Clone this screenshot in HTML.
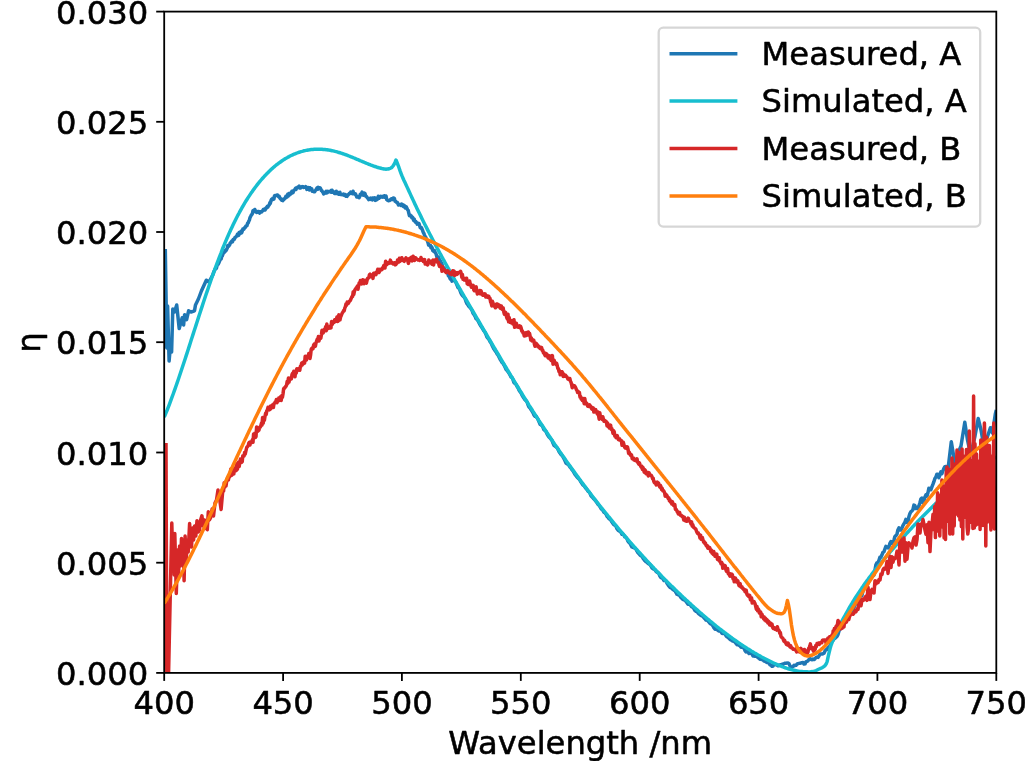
<!DOCTYPE html>
<html lang="en"><head><meta charset="utf-8"><title>Diffraction efficiency vs wavelength</title>
<style>html,body{margin:0;padding:0;background:#fff;overflow:hidden}svg{display:block}text{font-family:"DejaVu Sans","Liberation Sans",sans-serif;font-size:32.20px;fill:#000;stroke:#000;stroke-width:0.55px;stroke-linejoin:round}.ln{fill:none;stroke-width:3.50;stroke-linejoin:round;stroke-linecap:butt}.tk{stroke:#000;stroke-width:1.80}</style></head><body>
<svg width="1025" height="761" viewBox="0 0 1025 761">
<rect width="1025" height="761" fill="#fff"/>
<defs><clipPath id="ax"><rect x="164.2" y="11.6" width="832.1" height="661.3"/></clipPath></defs>
<g clip-path="url(#ax)">
<path class="ln" stroke="#1f77b4" d="M165.3 249.0 L166.1 300.0 L166.8 348.0 L167.6 306.0 L169.1 361.0 L170.5 345.0 L171.6 352.0 L172.8 309.0 L174.5 312.0 L176.7 305.0 L179.2 328.5 L182.2 317.7 L183.6 325.0 L184.6 314.7 L186.6 319.6 L188.6 310.8 L191.0 312.0 L194.5 310.8 L195.5 304.9 L198.4 299.0 L201.4 291.0 L206.3 280.2 L209.0 282.0 L212.2 276.0 L212.8 274.9 L213.4 273.2 L214.0 271.4 L214.6 270.5 L215.2 268.9 L215.8 268.5 L216.4 268.3 L217.0 265.7 L217.6 264.4 L218.2 264.1 L218.8 262.9 L219.4 261.6 L220.0 259.7 L220.6 259.3 L221.2 258.8 L221.8 256.1 L222.4 255.8 L223.0 253.7 L223.6 253.1 L224.2 251.7 L224.8 252.0 L225.4 250.3 L226.0 250.5 L226.6 249.5 L227.2 248.3 L227.8 245.6 L228.4 246.3 L229.0 245.8 L229.6 245.0 L230.2 242.9 L230.8 242.9 L231.4 241.6 L232.0 240.9 L232.6 241.6 L233.2 239.4 L233.8 239.2 L234.4 239.2 L235.0 237.3 L235.6 237.1 L236.2 236.6 L236.8 236.0 L237.4 234.3 L238.0 234.8 L238.6 235.3 L239.2 232.4 L239.8 233.8 L240.4 232.6 L241.0 231.4 L241.6 232.9 L242.2 231.3 L242.8 229.1 L243.4 229.4 L244.0 229.1 L244.6 227.7 L245.2 227.6 L245.8 226.2 L246.4 226.0 L247.0 225.7 L247.6 223.1 L248.2 222.9 L248.8 221.2 L249.4 220.2 L250.0 217.6 L250.6 216.5 L251.2 215.2 L251.8 214.6 L252.4 213.6 L253.0 210.7 L253.6 210.5 L254.2 211.5 L254.8 209.5 L255.4 210.8 L256.0 211.2 L256.6 212.4 L257.2 212.1 L257.8 211.4 L258.4 211.5 L259.0 211.7 L259.6 213.2 L260.2 211.7 L260.8 211.7 L261.4 212.0 L262.0 211.3 L262.6 210.9 L263.2 209.7 L263.8 210.1 L264.4 209.2 L265.0 210.0 L265.6 209.0 L266.2 207.8 L266.8 207.7 L267.4 206.3 L268.0 206.9 L268.6 205.4 L269.2 205.2 L269.8 202.8 L270.4 203.2 L271.0 200.6 L271.6 199.4 L272.1 199.8 L272.7 198.3 L273.3 198.3 L273.9 199.1 L274.5 195.9 L275.1 195.4 L275.7 195.6 L276.3 195.5 L276.9 194.9 L277.5 195.0 L278.1 196.2 L278.7 196.8 L279.3 196.4 L279.9 198.1 L280.5 199.0 L281.1 198.8 L281.7 200.2 L282.3 199.3 L282.9 200.6 L283.5 199.7 L284.1 199.3 L284.7 198.3 L285.3 198.2 L285.9 196.2 L286.5 196.3 L287.1 196.9 L287.7 194.3 L288.3 196.1 L288.9 193.5 L289.5 195.0 L290.1 193.2 L290.7 194.1 L291.3 193.0 L291.9 191.2 L292.5 192.9 L293.1 192.5 L293.7 190.7 L294.3 190.0 L294.9 189.5 L295.5 188.4 L296.1 189.5 L296.7 187.8 L297.3 187.8 L297.9 186.9 L298.5 186.8 L299.1 186.1 L299.7 188.0 L300.3 186.9 L300.9 187.8 L301.5 187.1 L302.1 186.6 L302.7 186.9 L303.3 186.8 L303.9 187.4 L304.5 187.2 L305.1 187.4 L305.7 186.6 L306.3 187.3 L306.9 189.4 L307.5 187.7 L308.1 187.6 L308.7 188.9 L309.3 189.9 L309.9 187.8 L310.5 189.1 L311.1 189.2 L311.7 188.8 L312.3 191.3 L312.9 191.2 L313.5 191.6 L314.1 191.0 L314.7 191.7 L315.3 190.5 L315.9 190.2 L316.5 188.7 L317.1 187.9 L317.7 189.3 L318.3 187.4 L318.9 187.8 L319.5 187.7 L320.1 187.9 L320.7 188.7 L321.3 190.5 L321.9 190.7 L322.5 191.7 L323.1 192.6 L323.7 193.9 L324.3 193.5 L324.9 193.2 L325.5 192.2 L326.1 191.3 L326.7 192.9 L327.3 192.6 L327.9 191.4 L328.5 191.7 L329.1 191.7 L329.7 191.7 L330.3 191.7 L330.9 190.7 L331.5 192.3 L332.1 190.2 L332.7 192.1 L333.3 191.9 L333.9 192.4 L334.5 193.5 L335.1 193.4 L335.7 191.5 L336.3 191.3 L336.9 193.5 L337.5 192.3 L338.1 193.3 L338.7 194.2 L339.3 192.5 L339.9 192.3 L340.5 194.4 L341.1 194.4 L341.7 194.4 L342.3 194.8 L342.9 194.3 L343.5 194.0 L344.1 195.3 L344.7 194.9 L345.3 194.5 L345.9 196.3 L346.5 195.9 L347.1 196.3 L347.7 195.0 L348.3 194.8 L348.9 193.9 L349.5 193.3 L350.1 193.5 L350.7 192.1 L351.3 192.5 L351.9 192.3 L352.5 193.7 L353.1 191.3 L353.7 193.7 L354.3 193.5 L354.9 194.3 L355.5 193.9 L356.1 195.4 L356.7 197.0 L357.3 196.7 L357.9 197.1 L358.5 196.7 L359.1 197.7 L359.7 196.4 L360.3 194.3 L360.9 195.0 L361.5 193.6 L362.1 192.1 L362.7 194.0 L363.3 195.2 L363.9 194.0 L364.5 193.2 L365.1 193.8 L365.7 196.2 L366.3 196.3 L366.9 197.1 L367.5 197.8 L368.1 198.6 L368.7 199.6 L369.3 199.4 L369.9 199.2 L370.5 198.2 L371.1 199.4 L371.7 198.5 L372.3 199.9 L372.9 198.0 L373.5 198.9 L374.1 199.0 L374.7 197.9 L375.3 200.4 L375.9 200.2 L376.5 198.6 L377.1 199.5 L377.7 199.0 L378.3 196.3 L378.9 198.3 L379.5 197.8 L380.1 197.5 L380.7 196.3 L381.3 196.6 L381.9 196.4 L382.5 197.2 L383.1 196.4 L383.7 196.0 L384.3 197.3 L384.9 195.9 L385.5 196.6 L386.1 196.2 L386.7 199.7 L387.3 199.9 L387.9 200.5 L388.5 200.8 L389.1 200.5 L389.7 200.4 L390.3 199.6 L390.9 199.2 L391.5 198.8 L392.1 199.6 L392.6 198.5 L393.2 198.0 L393.8 197.9 L394.4 198.5 L395.0 201.2 L395.6 201.3 L396.2 201.9 L396.8 202.5 L397.4 202.6 L398.0 204.0 L398.6 205.0 L399.2 204.3 L399.8 204.6 L400.4 204.8 L401.0 205.3 L401.6 204.1 L402.2 205.3 L402.8 204.9 L403.4 206.5 L404.0 205.4 L404.6 206.7 L405.2 207.8 L405.8 206.6 L406.4 207.0 L407.0 208.6 L407.6 209.7 L408.2 210.4 L408.8 213.0 L409.4 215.6 L410.0 214.8 L410.6 215.7 L411.2 215.8 L411.8 217.6 L412.4 217.1 L413.0 217.8 L413.6 220.3 L414.2 219.1 L414.8 221.2 L415.4 222.1 L416.0 221.7 L416.6 222.5 L417.2 224.2 L417.8 223.1 L418.4 223.5 L419.0 223.6 L419.6 225.5 L420.2 227.5 L420.8 228.1 L421.4 227.6 L422.0 228.9 L422.6 230.4 L423.2 232.3 L423.8 233.2 L424.4 234.9 L425.0 236.2 L425.6 237.0 L426.2 238.4 L426.8 239.9 L427.4 240.9 L428.0 242.6 L428.6 245.0 L429.2 245.1 L429.8 245.7 L430.4 245.3 L431.0 247.8 L431.6 246.8 L432.2 248.0 L432.8 250.5 L433.4 251.2 L434.0 251.2 L434.6 250.7 L435.2 252.6 L435.8 253.2 L436.4 255.1 L437.0 257.4 L437.6 256.8 L438.2 257.0 L438.8 257.7 L439.4 259.7 L440.0 260.7 L440.6 261.0 L441.2 263.1 L441.8 263.2 L442.4 266.1 L443.0 267.1 L443.6 268.2 L444.2 268.0 L444.8 269.8 L445.4 270.2 L446.0 271.0 L446.6 272.1 L447.2 272.3 L447.8 273.1 L448.4 275.9 L449.0 276.1 L449.6 277.4 L450.2 279.0 L450.8 277.7 L451.4 279.4 L452.0 281.1 L453.0 278.6 L454.0 280.6 L455.0 281.3 L456.0 282.6 L457.0 285.2 L458.0 287.6 L459.0 288.1 L460.0 290.3 L461.0 293.1 L462.0 294.9 L463.0 296.1 L464.0 297.1 L465.0 298.5 L466.0 301.5 L467.0 303.7 L468.0 305.0 L469.0 306.5 L470.0 307.5 L471.0 308.8 L472.0 310.3 L473.0 313.2 L474.0 314.5 L475.0 316.2 L476.0 318.6 L477.0 319.4 L478.0 320.7 L479.0 322.7 L480.0 324.6 L481.0 326.3 L482.0 327.6 L483.0 329.4 L484.0 331.0 L485.0 332.3 L486.0 334.4 L487.0 337.1 L488.0 338.2 L489.0 339.5 L490.0 341.6 L491.0 342.8 L492.0 345.2 L493.0 347.1 L494.0 349.1 L495.0 350.6 L496.0 351.8 L497.0 353.8 L498.0 355.0 L499.0 357.0 L500.0 359.0 L501.0 360.7 L502.0 362.4 L503.0 363.3 L504.0 365.0 L505.0 367.1 L506.0 369.3 L507.0 370.5 L508.0 371.8 L509.0 373.1 L510.0 375.0 L511.0 377.0 L512.0 377.5 L513.0 379.6 L514.0 382.6 L515.0 383.6 L516.0 384.2 L517.0 386.2 L518.0 387.8 L519.0 390.0 L520.0 391.7 L521.0 392.9 L522.0 395.1 L523.0 396.7 L524.0 398.2 L525.0 399.7 L526.0 400.6 L527.0 401.8 L528.0 404.8 L529.0 407.0 L530.0 407.9 L531.0 409.6 L532.0 411.1 L533.0 412.7 L534.0 415.1 L535.0 416.2 L536.0 416.2 L537.0 417.7 L538.0 419.4 L539.0 421.7 L540.0 424.2 L541.0 424.9 L542.0 425.5 L543.0 427.3 L544.0 430.0 L545.0 430.4 L546.0 431.5 L547.0 433.8 L548.0 435.5 L549.0 437.0 L550.0 437.9 L551.0 439.2 L552.0 440.4 L553.0 443.1 L554.0 445.4 L555.0 446.1 L556.0 446.8 L557.0 447.6 L558.0 449.2 L559.0 451.5 L560.0 453.1 L561.0 454.5 L562.0 455.4 L563.0 456.9 L564.0 458.8 L565.0 460.8 L566.0 463.1 L567.0 463.8 L568.0 464.1 L569.0 465.5 L570.0 467.0 L571.0 468.1 L572.0 469.7 L573.0 470.9 L574.0 472.6 L575.0 474.4 L576.0 475.6 L577.0 476.9 L578.0 477.9 L579.0 478.9 L580.0 480.4 L581.0 482.0 L582.0 483.5 L583.0 485.1 L584.0 485.7 L585.0 487.1 L586.0 488.4 L587.0 489.4 L588.0 491.2 L589.0 491.9 L590.0 493.4 L591.0 495.7 L592.0 496.8 L593.0 497.9 L594.0 499.1 L595.0 500.1 L596.0 501.4 L597.0 502.9 L598.0 504.4 L599.0 505.3 L600.0 506.7 L601.0 508.5 L602.0 509.6 L603.0 510.6 L604.0 512.2 L605.0 512.9 L606.0 514.1 L607.0 516.2 L608.0 517.3 L609.0 518.6 L610.0 519.4 L611.0 520.3 L612.0 522.1 L613.0 523.6 L614.0 524.7 L615.0 525.0 L616.0 526.4 L617.0 528.7 L618.0 530.1 L619.0 530.9 L620.0 531.0 L621.0 532.5 L622.0 534.3 L623.0 533.9 L624.0 535.3 L625.0 537.0 L626.0 537.4 L627.0 538.9 L628.0 541.2 L629.0 542.5 L630.0 543.2 L631.0 545.3 L632.0 547.0 L633.0 547.4 L634.0 547.7 L635.0 548.3 L636.0 549.2 L637.0 551.1 L638.0 552.7 L639.0 553.7 L640.0 555.1 L641.0 555.8 L642.0 556.4 L643.0 558.2 L644.0 559.6 L645.0 560.8 L646.0 561.8 L647.0 562.3 L648.0 563.4 L649.0 564.1 L650.0 564.3 L651.0 566.1 L652.0 567.9 L653.0 568.8 L654.0 569.1 L655.0 569.9 L656.0 571.4 L657.0 572.3 L658.0 572.6 L659.0 573.8 L660.0 576.3 L661.0 577.6 L662.0 578.0 L663.0 578.8 L664.0 580.5 L665.0 580.3 L666.0 580.9 L667.0 583.3 L668.0 584.7 L669.0 586.2 L670.0 587.4 L671.0 587.8 L672.0 588.4 L673.0 589.6 L674.0 590.2 L675.0 590.8 L676.0 592.5 L677.0 594.3 L678.0 594.8 L679.0 594.9 L680.0 596.0 L681.0 597.6 L682.0 598.4 L683.0 599.4 L684.0 599.9 L685.0 600.2 L686.0 601.4 L687.0 602.8 L688.0 604.3 L689.0 604.2 L690.0 604.2 L691.0 606.0 L692.0 607.0 L693.0 607.1 L694.0 608.8 L695.0 610.6 L696.0 611.3 L697.0 611.7 L698.0 612.9 L699.0 613.9 L700.0 614.8 L701.0 615.4 L702.0 615.4 L703.0 616.8 L704.0 617.7 L705.0 618.8 L706.0 620.1 L707.0 620.2 L708.0 621.0 L709.0 622.1 L710.0 623.3 L711.0 624.1 L712.0 624.3 L713.0 626.0 L714.0 628.0 L715.0 629.2 L716.0 629.0 L717.0 629.0 L718.0 630.5 L719.0 631.1 L720.0 630.8 L721.0 631.7 L722.0 633.2 L723.0 633.5 L724.0 633.4 L725.0 633.9 L726.0 635.7 L727.0 636.8 L728.0 637.2 L729.0 638.3 L730.0 639.4 L731.0 639.9 L732.0 640.6 L733.0 641.1 L734.0 641.5 L735.0 642.1 L736.0 643.5 L737.0 644.7 L738.0 644.5 L739.0 645.1 L740.0 646.0 L741.0 647.2 L742.0 647.2 L743.0 647.2 L744.0 648.4 L745.0 650.6 L746.0 651.9 L747.0 651.4 L748.0 651.9 L749.0 653.5 L750.0 652.8 L751.0 653.0 L752.0 654.2 L753.0 656.0 L754.0 656.0 L755.0 656.2 L756.0 655.5 L757.0 656.2 L758.0 657.7 L759.0 658.2 L760.0 659.2 L761.0 659.4 L762.0 658.9 L763.0 659.9 L764.0 661.0 L765.0 661.2 L766.0 661.9 L767.0 662.4 L768.0 662.0 L769.0 663.2 L770.0 664.8 L771.0 665.1 L772.0 666.3 L773.0 666.0 L774.0 664.4 L775.0 664.2 L776.0 664.7 L777.0 665.0 L778.0 665.8 L779.0 665.0 L780.0 664.9 L781.0 664.7 L782.0 664.2 L783.0 664.4 L784.0 663.6 L785.0 663.3 L786.0 663.2 L787.0 663.1 L788.0 662.9 L789.0 663.6 L790.0 665.9 L791.0 667.3 L792.0 667.2 L793.0 666.6 L794.0 665.3 L795.0 665.4 L796.0 665.3 L797.0 664.1 L798.0 663.6 L799.0 663.4 L800.0 663.2 L801.0 663.0 L802.0 662.6 L803.0 662.4 L804.0 664.1 L805.0 663.9 L806.0 661.8 L807.0 661.3 L808.0 660.9 L809.0 659.4 L810.0 658.6 L811.0 659.6 L812.0 659.7 L813.0 659.1 L814.0 659.6 L815.0 658.8 L816.0 657.5 L817.0 657.1 L818.0 657.4 L819.0 656.0 L820.0 654.0 L821.0 654.1 L822.0 654.0 L823.0 653.7 L824.0 653.2 L825.0 651.0 L826.0 649.7 L827.0 649.5 L828.0 647.7 L829.0 647.0 L830.0 645.7 L831.0 642.8 L832.0 641.7 L833.0 640.5 L834.0 638.8 L835.0 638.4 L836.0 637.3 L837.0 636.5 L838.0 634.5 L839.0 631.0 L840.0 629.1 L841.0 627.7 L842.0 625.7 L843.0 624.8 L844.0 623.4 L845.0 620.0 L846.0 619.1 L847.0 618.6 L848.0 616.7 L849.0 615.1 L849.9 613.6 L850.9 612.0 L851.9 610.8 L852.9 609.6 L853.9 607.3 L854.9 605.7 L855.9 602.6 L856.9 600.5 L857.9 600.0 L858.9 598.7 L859.9 596.0 L860.9 595.7 L861.9 595.5 L862.9 591.2 L863.9 587.8 L864.9 587.0 L865.9 586.9 L866.9 584.8 L867.9 583.2 L868.9 581.4 L869.9 580.0 L870.9 577.9 L871.9 575.0 L872.9 574.6 L873.9 575.1 L874.9 570.6 L875.9 564.8 L876.9 562.9 L877.9 562.5 L878.9 560.5 L879.9 557.3 L880.9 557.2 L881.9 555.1 L882.9 552.5 L883.9 551.8 L884.9 549.0 L885.9 546.3 L886.9 547.2 L887.9 548.0 L888.9 547.1 L889.9 543.3 L890.9 541.5 L891.9 543.4 L892.9 543.2 L893.9 540.3 L894.9 536.5 L895.9 535.6 L896.9 534.3 L897.9 530.0 L898.9 527.9 L899.9 530.1 L900.9 530.1 L901.9 528.2 L902.9 525.7 L903.9 523.9 L904.9 522.3 L905.9 519.3 L906.9 522.5 L907.9 522.6 L908.9 516.7 L909.9 513.6 L910.9 511.7 L911.9 511.1 L912.9 509.7 L913.9 505.1 L914.9 505.6 L915.9 508.6 L916.9 508.6 L917.9 508.5 L918.9 505.9 L919.9 502.7 L920.9 499.0 L921.9 498.0 L922.9 502.6 L923.9 501.5 L924.9 497.2 L925.9 494.8 L926.9 496.2 L927.9 493.0 L928.9 488.2 L929.9 489.4 L930.9 489.7 L931.9 486.9 L932.9 484.4 L933.9 481.7 L934.9 478.4 L935.9 477.0 L936.9 474.2 L937.9 474.2 L938.9 477.7 L939.9 475.1 L940.9 471.8 L941.9 473.7 L942.9 470.8 L943.9 468.4 L944.9 466.7 L945.9 466.5 L946.9 470.7 L947.9 469.8 L948.9 461.6 L951.3 441.7 L953.5 455.0 L956.0 470.0 L958.5 452.0 L961.0 446.0 L964.8 422.2 L967.5 440.0 L970.0 452.0 L972.5 447.0 L975.0 436.0 L978.2 418.5 L981.0 430.0 L984.0 447.0 L987.0 438.0 L990.4 427.7 L992.5 433.0 L995.3 414.2 L996.3 410.0"/>
<path class="ln" stroke="#17becf" d="M164.2 417.1 L165.2 414.8 L166.2 412.4 L167.2 410.0 L168.2 407.4 L169.2 404.8 L170.2 402.1 L171.2 399.4 L172.2 396.7 L173.2 394.0 L174.2 391.2 L175.2 388.4 L176.2 385.5 L177.2 382.6 L178.2 379.7 L179.2 376.8 L180.2 373.8 L181.2 370.8 L182.2 367.8 L183.2 364.8 L184.2 361.8 L185.2 358.7 L186.2 355.6 L187.2 352.6 L188.2 349.5 L189.2 346.4 L190.2 343.3 L191.2 340.1 L192.2 337.0 L193.2 333.9 L194.2 330.8 L195.2 327.7 L196.2 324.6 L197.2 321.5 L198.2 318.4 L199.2 315.3 L200.2 312.2 L201.2 309.1 L202.2 306.1 L203.2 303.0 L204.2 300.0 L205.2 297.0 L206.2 294.0 L207.2 291.1 L208.2 288.2 L209.2 285.2 L210.2 282.4 L211.2 279.5 L212.2 276.7 L213.2 273.9 L214.2 271.1 L215.2 268.4 L216.2 265.6 L217.2 263.0 L218.2 260.3 L219.2 257.7 L220.2 255.1 L221.2 252.6 L222.1 250.0 L223.1 247.5 L224.1 245.1 L225.1 242.7 L226.1 240.3 L227.1 238.0 L228.1 235.7 L229.1 233.4 L230.1 231.2 L231.1 229.0 L232.1 226.9 L233.1 224.8 L234.1 222.7 L235.1 220.7 L236.1 218.7 L237.1 216.8 L238.1 214.8 L239.1 213.0 L240.1 211.1 L241.1 209.3 L242.1 207.5 L243.1 205.8 L244.1 204.1 L245.1 202.4 L246.1 200.8 L247.1 199.2 L248.1 197.6 L249.1 196.1 L250.1 194.6 L251.1 193.1 L252.1 191.7 L253.1 190.2 L254.1 188.9 L255.1 187.5 L256.1 186.2 L257.1 184.9 L258.1 183.6 L259.1 182.4 L260.1 181.2 L261.1 180.0 L262.1 178.8 L263.1 177.7 L264.1 176.6 L265.1 175.5 L266.1 174.5 L267.1 173.4 L268.1 172.4 L269.1 171.4 L270.1 170.5 L271.1 169.5 L272.1 168.6 L273.1 167.7 L274.1 166.9 L275.1 166.0 L276.1 165.2 L277.1 164.4 L278.1 163.7 L279.1 162.9 L280.1 162.2 L281.1 161.5 L282.1 160.8 L283.1 160.1 L284.1 159.5 L285.1 158.8 L286.1 158.2 L287.1 157.7 L288.1 157.1 L289.1 156.6 L290.1 156.0 L291.1 155.5 L292.1 155.1 L293.1 154.6 L294.1 154.2 L295.1 153.8 L296.1 153.4 L297.1 153.0 L298.1 152.6 L299.1 152.3 L300.1 152.0 L301.1 151.6 L302.1 151.4 L303.1 151.1 L304.1 150.8 L305.1 150.6 L306.1 150.4 L307.1 150.2 L308.1 150.0 L309.1 149.9 L310.1 149.7 L311.1 149.6 L312.1 149.5 L313.1 149.4 L314.1 149.3 L315.1 149.3 L316.1 149.2 L317.1 149.2 L318.1 149.2 L319.1 149.2 L320.1 149.2 L321.1 149.3 L322.1 149.3 L323.1 149.4 L324.1 149.5 L325.1 149.6 L326.1 149.7 L327.1 149.8 L328.1 150.0 L329.1 150.1 L330.1 150.3 L331.1 150.5 L332.1 150.7 L333.1 150.9 L334.1 151.1 L335.1 151.4 L336.1 151.6 L337.1 151.9 L338.0 152.2 L339.0 152.5 L340.0 152.8 L341.0 153.1 L342.0 153.4 L343.0 153.8 L344.0 154.1 L345.0 154.5 L346.0 154.8 L347.0 155.2 L348.0 155.6 L349.0 156.0 L350.0 156.4 L351.0 156.8 L352.0 157.2 L353.0 157.6 L354.0 158.0 L355.0 158.4 L356.0 158.9 L357.0 159.3 L358.0 159.7 L359.0 160.1 L360.0 160.6 L361.0 161.0 L362.0 161.4 L363.0 161.8 L364.0 162.2 L365.0 162.7 L366.0 163.1 L367.0 163.5 L368.0 163.9 L369.0 164.3 L370.0 164.7 L371.0 165.1 L372.0 165.4 L373.0 165.8 L374.0 166.2 L375.0 166.5 L376.0 166.8 L377.0 167.2 L378.0 167.5 L379.0 167.8 L380.0 168.0 L381.0 168.3 L382.0 168.6 L383.0 168.8 L384.0 169.0 L385.0 169.1 L386.0 169.2 L387.0 169.1 L388.0 169.0 L389.0 168.7 L390.0 168.4 L391.0 168.0 L392.0 167.3 L393.0 166.0 L394.0 164.5 L395.0 162.5 L396.0 160.0 L397.0 162.5 L398.0 165.0 L399.0 167.7 L400.0 170.6 L401.0 173.3 L402.0 175.9 L403.0 178.2 L404.0 180.5 L405.0 182.6 L406.0 184.7 L407.0 186.9 L408.0 189.0 L409.0 191.2 L410.0 193.4 L411.0 195.6 L412.0 197.7 L413.0 199.9 L414.0 202.0 L415.0 204.2 L416.0 206.3 L417.0 208.4 L418.0 210.5 L419.0 212.5 L420.0 214.6 L421.0 216.6 L422.0 218.7 L423.0 220.7 L424.0 222.7 L425.0 224.7 L426.0 226.6 L427.0 228.6 L428.0 230.6 L429.0 232.5 L430.0 234.5 L431.0 236.4 L432.0 238.3 L433.0 240.2 L434.0 242.1 L435.0 244.0 L436.0 245.9 L437.0 247.8 L438.0 249.6 L439.0 251.5 L440.0 253.4 L441.0 255.2 L442.0 257.0 L443.0 258.9 L444.0 260.7 L445.0 262.5 L446.0 264.3 L447.0 266.1 L448.0 267.9 L449.0 269.7 L450.0 271.5 L451.0 273.3 L452.0 275.1 L453.0 276.8 L454.0 278.6 L455.0 280.4 L456.0 282.1 L457.0 283.9 L458.0 285.6 L459.0 287.4 L460.0 289.1 L461.0 290.9 L462.0 292.6 L463.0 294.3 L464.0 296.1 L465.0 297.8 L466.0 299.5 L467.0 301.2 L468.0 302.9 L469.0 304.7 L470.0 306.4 L471.0 308.1 L472.0 309.8 L473.0 311.5 L474.0 313.2 L475.0 314.9 L476.0 316.6 L477.0 318.3 L478.0 320.0 L479.0 321.7 L480.0 323.4 L481.0 325.2 L482.0 326.9 L483.0 328.6 L484.0 330.3 L485.0 332.0 L486.0 333.7 L487.0 335.4 L488.0 337.1 L489.0 338.8 L490.0 340.5 L491.0 342.2 L492.0 343.9 L493.0 345.6 L494.0 347.3 L495.0 349.0 L496.0 350.7 L497.0 352.3 L498.0 354.0 L499.0 355.7 L500.0 357.4 L501.0 359.1 L502.0 360.8 L503.0 362.5 L504.0 364.1 L505.0 365.8 L506.0 367.5 L507.0 369.2 L508.0 370.8 L509.0 372.5 L510.0 374.1 L511.0 375.8 L512.0 377.5 L513.0 379.1 L514.0 380.8 L515.0 382.4 L516.0 384.1 L517.0 385.7 L518.0 387.3 L519.0 389.0 L520.0 390.6 L521.0 392.2 L522.0 393.8 L523.0 395.5 L524.0 397.1 L525.0 398.7 L526.0 400.3 L527.0 401.9 L528.0 403.5 L529.0 405.1 L530.0 406.6 L531.0 408.2 L532.0 409.8 L533.0 411.4 L534.0 412.9 L535.0 414.5 L536.0 416.0 L537.0 417.6 L538.0 419.1 L539.0 420.7 L540.0 422.2 L541.0 423.7 L542.0 425.3 L543.0 426.8 L544.0 428.3 L545.0 429.8 L546.0 431.3 L547.0 432.8 L548.0 434.3 L549.0 435.8 L550.0 437.3 L551.0 438.8 L552.0 440.3 L553.0 441.7 L554.0 443.2 L555.0 444.7 L556.0 446.1 L557.0 447.6 L558.0 449.0 L559.0 450.5 L560.0 451.9 L561.0 453.3 L562.0 454.8 L563.0 456.2 L564.0 457.6 L565.0 459.0 L566.0 460.5 L567.0 461.9 L568.0 463.3 L569.0 464.7 L570.0 466.1 L571.0 467.5 L572.0 468.9 L573.0 470.2 L574.0 471.6 L575.0 473.0 L576.0 474.4 L577.0 475.7 L578.0 477.1 L579.0 478.5 L580.0 479.8 L581.0 481.2 L582.0 482.5 L583.0 483.8 L584.0 485.2 L585.0 486.5 L586.0 487.8 L587.0 489.2 L588.0 490.5 L589.0 491.8 L590.0 493.1 L591.0 494.4 L592.0 495.7 L593.0 497.0 L594.0 498.3 L595.0 499.6 L596.0 500.9 L597.0 502.2 L598.0 503.4 L599.0 504.7 L600.0 506.0 L601.0 507.2 L602.0 508.5 L603.1 509.8 L604.1 511.0 L605.1 512.3 L606.1 513.5 L607.1 514.7 L608.1 516.0 L609.1 517.2 L610.1 518.4 L611.1 519.7 L612.1 520.9 L613.1 522.1 L614.1 523.3 L615.1 524.5 L616.1 525.7 L617.1 526.9 L618.1 528.1 L619.1 529.3 L620.1 530.5 L621.1 531.7 L622.1 532.8 L623.1 534.0 L624.1 535.2 L625.1 536.3 L626.1 537.5 L627.1 538.7 L628.1 539.8 L629.1 541.0 L630.1 542.1 L631.1 543.3 L632.1 544.4 L633.1 545.5 L634.1 546.7 L635.1 547.8 L636.1 548.9 L637.1 550.0 L638.1 551.1 L639.1 552.2 L640.1 553.3 L641.1 554.4 L642.1 555.5 L643.1 556.6 L644.1 557.7 L645.1 558.8 L646.1 559.9 L647.1 561.0 L648.1 562.0 L649.1 563.1 L650.1 564.2 L651.1 565.2 L652.1 566.3 L653.1 567.3 L654.1 568.4 L655.1 569.4 L656.1 570.5 L657.1 571.5 L658.1 572.6 L659.1 573.6 L660.1 574.6 L661.1 575.6 L662.1 576.7 L663.1 577.7 L664.1 578.7 L665.1 579.7 L666.1 580.7 L667.1 581.7 L668.1 582.7 L669.1 583.7 L670.1 584.7 L671.1 585.7 L672.1 586.6 L673.1 587.6 L674.1 588.6 L675.1 589.6 L676.1 590.5 L677.1 591.5 L678.1 592.4 L679.1 593.4 L680.1 594.3 L681.1 595.3 L682.1 596.2 L683.1 597.2 L684.1 598.1 L685.1 599.0 L686.1 600.0 L687.1 600.9 L688.1 601.8 L689.1 602.7 L690.1 603.6 L691.1 604.6 L692.1 605.5 L693.1 606.4 L694.1 607.3 L695.1 608.2 L696.1 609.0 L697.1 609.9 L698.1 610.8 L699.1 611.7 L700.1 612.6 L701.1 613.4 L702.1 614.3 L703.1 615.2 L704.1 616.0 L705.1 616.9 L706.1 617.7 L707.1 618.6 L708.1 619.4 L709.1 620.2 L710.1 621.1 L711.1 621.9 L712.1 622.7 L713.1 623.5 L714.1 624.4 L715.1 625.2 L716.1 626.0 L717.1 626.8 L718.1 627.6 L719.1 628.4 L720.1 629.1 L721.1 629.9 L722.1 630.7 L723.1 631.5 L724.1 632.2 L725.1 633.0 L726.1 633.7 L727.1 634.5 L728.1 635.2 L729.1 636.0 L730.1 636.7 L731.1 637.4 L732.1 638.2 L733.1 638.9 L734.1 639.6 L735.1 640.3 L736.1 641.0 L737.1 641.7 L738.1 642.4 L739.1 643.1 L740.1 643.8 L741.1 644.4 L742.1 645.1 L743.1 645.8 L744.1 646.4 L745.1 647.1 L746.1 647.7 L747.1 648.4 L748.1 649.0 L749.1 649.6 L750.1 650.2 L751.1 650.9 L752.1 651.5 L753.1 652.1 L754.1 652.7 L755.1 653.2 L756.1 653.8 L757.1 654.4 L758.1 655.0 L759.1 655.5 L760.1 656.1 L761.1 656.7 L762.1 657.2 L763.1 657.7 L764.1 658.3 L765.1 658.8 L766.1 659.3 L767.1 659.8 L768.1 660.3 L769.1 660.8 L770.1 661.3 L771.1 661.8 L772.1 662.3 L773.1 662.8 L774.1 663.2 L775.1 663.7 L776.1 664.1 L777.1 664.6 L778.1 665.0 L779.1 665.4 L780.1 665.8 L781.1 666.2 L782.1 666.6 L783.1 667.0 L784.1 667.4 L785.1 667.7 L786.1 668.0 L787.1 668.4 L788.1 668.7 L789.1 669.0 L790.1 669.3 L791.1 669.6 L792.1 669.8 L793.1 670.1 L794.1 670.3 L795.1 670.5 L796.1 670.7 L797.1 670.9 L798.1 671.1 L799.1 671.3 L800.1 671.4 L801.1 671.5 L802.1 671.6 L803.1 671.7 L804.1 671.8 L805.1 671.8 L806.1 671.8 L807.1 671.8 L808.1 671.9 L809.1 671.9 L810.1 671.9 L811.1 671.7 L812.1 671.6 L813.1 671.4 L814.1 671.2 L815.1 670.9 L816.1 670.5 L817.1 670.0 L818.1 669.5 L819.1 669.0 L820.1 668.6 L821.1 668.2 L822.1 667.7 L823.1 667.1 L824.1 666.4 L825.1 665.5 L826.1 664.1 L827.1 661.7 L828.1 656.8 L829.1 652.6 L830.1 648.6 L831.1 645.1 L832.1 642.3 L833.1 640.0 L834.1 637.8 L835.1 635.6 L836.1 633.4 L837.1 631.1 L838.1 628.9 L839.1 626.8 L840.1 624.7 L841.1 622.7 L842.1 620.8 L843.1 618.9 L844.1 617.1 L845.1 615.4 L846.1 613.6 L847.1 611.8 L848.1 610.0 L849.1 608.2 L850.1 606.5 L851.1 604.8 L852.1 603.2 L853.1 601.5 L854.1 599.9 L855.1 598.3 L856.1 596.7 L857.1 595.1 L858.1 593.6 L859.1 592.1 L860.1 590.6 L861.1 589.1 L862.1 587.6 L863.1 586.2 L864.1 584.7 L865.1 583.3 L866.1 581.9 L867.1 580.5 L868.1 579.2 L869.1 577.8 L870.1 576.5 L871.1 575.2 L872.1 573.8 L873.1 572.5 L874.2 571.3 L875.2 570.0 L876.2 568.7 L877.2 567.5 L878.2 566.2 L879.2 565.0 L880.2 563.8 L881.2 562.5 L882.2 561.3 L883.2 560.1 L884.2 558.9 L885.2 557.8 L886.2 556.6 L887.2 555.4 L888.2 554.2 L889.2 553.1 L890.2 551.9 L891.2 550.8 L892.2 549.6 L893.2 548.5 L894.2 547.3 L895.2 546.2 L896.2 545.0 L897.2 543.9 L898.2 542.8 L899.2 541.7 L900.2 540.5 L901.2 539.4 L902.2 538.3 L903.2 537.2 L904.2 536.1 L905.2 535.0 L906.2 533.9 L907.2 532.8 L908.2 531.7 L909.2 530.6 L910.2 529.5 L911.2 528.5 L912.2 527.4 L913.2 526.3 L914.2 525.3 L915.2 524.2 L916.2 523.2 L917.2 522.1 L918.2 521.1 L919.2 520.0 L920.2 519.0 L921.2 518.0 L922.2 517.0 L923.2 515.9 L924.2 514.9 L925.2 513.9 L926.2 512.9 L927.2 511.9 L928.2 510.9 L929.2 509.9 L930.2 508.9 L931.2 508.0 L932.2 507.0 L933.2 506.0 L934.2 505.0 L935.2 504.1 L936.2 503.1 L937.2 502.2 L938.2 501.2 L939.2 500.3 L940.2 499.4 L941.2 498.4 L942.2 497.5 L943.2 496.6 L944.2 495.7 L945.2 494.8 L946.2 493.9 L947.2 493.0 L948.2 492.1 L949.2 491.2 L950.2 490.4 L951.2 489.5 L952.2 488.6 L953.2 487.8 L954.2 486.9 L955.2 486.1 L956.3 485.2 L957.3 484.4 L958.3 483.5 L959.3 482.7 L960.3 481.9 L961.3 481.1 L962.3 480.3 L963.3 479.5 L964.3 478.7 L965.3 477.9 L966.3 477.1 L967.3 476.3 L968.3 475.6 L969.3 474.8 L970.3 474.1 L971.3 473.3 L972.3 472.6 L973.3 471.8 L974.3 471.1 L975.3 470.4 L976.3 469.7 L977.3 468.9 L978.3 468.2 L979.3 467.5 L980.3 466.9 L981.3 466.2 L982.3 465.5 L983.3 464.8 L984.3 464.2 L985.3 463.5 L986.3 462.8 L987.3 462.2 L988.3 461.6 L989.3 460.9 L990.3 460.3 L991.3 459.7 L992.3 459.1 L993.3 458.6 L994.3 458.0 L995.3 457.5 L996.3 456.9"/>
<path class="ln" stroke="#d62728" d="M166.0 443.0 L166.9 700.0 L168.0 700.0 L171.8 523.0 L172.8 560.0 L173.6 538.0 L174.3 575.0 L174.8 533.5 L176.3 593.5 L177.6 550.0 L178.6 574.0 L179.6 546.0 L180.4 566.0 L181.5 538.4 L182.6 560.0 L183.3 545.0 L184.1 580.7 L185.1 536.0 L186.2 562.0 L187.2 540.0 L188.2 552.0 L189.6 523.6 L190.6 540.0 L191.5 547.0 L192.6 528.0 L193.6 540.0 L194.6 526.0 L195.8 536.0 L197.0 520.7 L198.2 532.0 L199.5 530.0 L200.6 520.0 L201.9 515.8 L203.2 526.0 L204.5 520.0 L205.8 528.0 L207.3 529.6 L208.3 511.8 L209.4 520.0 L210.5 518.0 L212.2 508.9 L213.5 516.0 L215.0 503.0 L216.5 500.0 L218.0 490.0 L219.5 498.0 L221.1 509.4 L223.0 488.0 L223.6 491.2 L224.2 482.7 L224.8 487.2 L225.4 483.0 L226.0 485.9 L226.6 481.8 L227.2 478.8 L227.8 480.2 L228.4 479.9 L229.0 476.8 L229.6 476.9 L230.2 473.9 L230.8 468.9 L231.4 475.5 L232.0 474.9 L232.6 472.5 L233.2 471.8 L233.8 473.9 L234.4 469.3 L235.0 468.0 L235.6 468.5 L236.2 470.6 L236.8 463.7 L237.4 469.4 L238.0 463.7 L238.6 462.0 L239.2 466.5 L239.8 462.1 L240.4 459.1 L241.0 460.7 L241.6 462.4 L242.2 461.7 L242.8 455.8 L243.4 456.4 L244.0 456.2 L244.6 452.6 L245.2 454.2 L245.8 451.4 L246.4 448.8 L247.0 446.9 L247.6 446.5 L248.2 445.6 L248.8 443.1 L249.4 442.3 L250.0 445.0 L250.6 441.9 L251.2 442.7 L251.8 442.1 L252.4 439.7 L253.0 442.4 L253.6 433.9 L254.2 437.0 L254.8 433.2 L255.4 437.5 L256.0 436.6 L256.6 427.1 L257.2 428.8 L257.8 431.2 L258.4 430.7 L259.0 430.0 L259.6 427.2 L260.2 427.2 L260.8 425.9 L261.4 423.3 L262.0 425.0 L262.6 417.4 L263.2 423.2 L263.8 417.9 L264.4 420.3 L265.0 416.3 L265.6 413.3 L266.2 414.4 L266.8 410.8 L267.4 410.0 L268.0 407.3 L268.6 409.7 L269.2 409.9 L269.8 409.7 L270.4 406.2 L271.0 408.7 L271.6 405.9 L272.2 405.1 L272.8 407.2 L273.4 407.4 L274.0 403.6 L274.6 403.4 L275.2 402.0 L275.8 401.7 L276.4 399.5 L277.0 402.7 L277.6 399.4 L278.2 401.2 L278.8 398.1 L279.4 400.2 L280.0 399.7 L280.6 396.7 L281.2 400.5 L281.8 395.6 L282.4 397.4 L283.0 394.0 L283.6 389.0 L284.2 388.0 L284.8 387.9 L285.4 386.7 L286.0 386.3 L286.6 385.0 L287.2 381.4 L287.8 383.4 L288.4 378.1 L289.0 382.1 L289.6 379.2 L290.2 378.0 L290.8 378.3 L291.4 378.8 L292.0 374.5 L292.6 373.3 L293.2 373.3 L293.8 371.2 L294.4 372.1 L295.0 376.8 L295.6 371.6 L296.2 373.2 L296.8 368.7 L297.4 370.7 L298.0 369.1 L298.6 368.5 L299.2 369.0 L299.8 370.3 L300.4 366.3 L301.0 366.2 L301.6 363.4 L302.2 365.2 L302.8 362.6 L303.4 363.8 L304.0 361.5 L304.6 363.2 L305.2 356.2 L305.8 357.9 L306.4 360.0 L307.0 357.6 L307.6 356.1 L308.2 356.4 L308.8 353.5 L309.4 355.2 L310.0 358.5 L310.6 355.0 L311.2 349.2 L311.8 348.4 L312.4 347.8 L313.0 348.8 L313.6 345.2 L314.2 344.2 L314.8 346.5 L315.4 346.2 L316.0 343.0 L316.6 341.1 L317.2 339.2 L317.8 339.7 L318.4 336.5 L319.0 340.9 L319.6 337.8 L320.2 337.8 L320.8 338.1 L321.4 335.0 L322.0 330.2 L322.6 333.2 L323.2 332.9 L323.8 330.0 L324.4 329.3 L325.0 329.5 L325.6 326.8 L326.2 330.8 L326.8 324.1 L327.4 327.5 L328.0 328.3 L328.6 328.4 L329.2 328.2 L329.8 327.2 L330.4 326.0 L331.0 327.9 L331.6 321.5 L332.2 324.6 L332.8 322.2 L333.4 322.6 L334.0 322.6 L334.6 319.8 L335.2 319.7 L335.8 321.1 L336.4 319.4 L337.0 317.0 L337.6 321.4 L338.2 321.1 L338.8 314.8 L339.4 317.2 L340.0 319.9 L340.6 317.0 L341.2 315.7 L341.8 314.1 L342.4 312.7 L343.0 312.1 L343.6 310.6 L344.2 310.8 L344.8 308.0 L345.4 306.7 L346.0 304.0 L346.6 305.2 L347.2 302.1 L347.8 302.3 L348.4 303.3 L349.0 301.8 L349.6 301.2 L350.2 300.6 L350.8 299.4 L351.4 297.9 L352.0 296.6 L352.6 296.4 L353.2 291.8 L353.8 294.4 L354.4 291.5 L355.0 289.5 L355.6 289.0 L356.2 287.9 L356.8 288.2 L357.4 286.1 L358.0 289.3 L358.6 285.8 L359.2 282.9 L359.8 284.2 L360.4 280.6 L361.0 282.5 L361.6 283.9 L362.2 283.0 L362.8 279.8 L363.4 280.4 L364.0 283.7 L364.6 281.6 L365.2 280.4 L365.8 281.7 L366.4 283.1 L367.0 280.7 L367.6 278.3 L368.2 278.0 L368.8 277.8 L369.4 274.8 L370.0 274.2 L370.6 276.6 L371.2 274.8 L371.8 276.5 L372.4 276.3 L373.0 278.4 L373.6 273.3 L374.2 273.8 L374.8 273.1 L375.4 274.6 L376.0 274.7 L376.6 272.1 L377.2 271.5 L377.8 269.2 L378.4 270.5 L379.0 272.5 L379.6 271.2 L380.2 269.3 L380.8 269.9 L381.4 269.1 L382.0 269.5 L382.6 267.7 L383.2 267.7 L383.8 265.5 L384.4 265.1 L385.0 268.1 L385.6 261.3 L386.2 263.3 L386.8 264.6 L387.4 263.3 L388.0 262.7 L388.6 263.4 L389.2 263.1 L389.8 263.1 L390.4 260.1 L391.0 263.1 L391.6 262.5 L392.2 262.6 L392.8 263.6 L393.4 264.1 L394.0 264.1 L394.6 262.7 L395.2 264.9 L395.8 264.7 L396.4 263.6 L397.0 263.1 L397.6 259.9 L398.2 260.1 L398.8 262.0 L399.4 258.3 L400.0 261.2 L400.6 259.8 L401.2 260.1 L401.8 257.7 L402.4 259.2 L403.0 260.2 L403.6 260.9 L404.2 261.3 L404.8 259.3 L405.4 259.0 L406.0 257.8 L406.6 259.3 L407.2 258.8 L407.8 261.0 L408.4 263.4 L409.0 261.3 L409.6 258.5 L410.2 258.8 L410.8 257.7 L411.4 257.3 L412.0 260.9 L412.6 259.2 L413.2 256.2 L413.8 259.4 L414.4 260.5 L415.0 257.9 L415.6 257.7 L416.2 258.4 L416.8 259.0 L417.4 259.6 L418.0 260.0 L418.6 259.8 L419.2 259.8 L419.8 260.4 L420.4 259.9 L421.0 257.5 L421.6 259.6 L422.2 260.4 L422.8 259.4 L423.4 261.4 L424.0 260.2 L424.6 259.6 L425.2 263.9 L425.8 263.1 L426.4 262.6 L427.0 264.4 L427.6 264.9 L428.2 263.6 L428.8 260.0 L429.4 262.0 L430.0 262.2 L430.6 261.5 L431.2 262.6 L431.8 264.1 L432.4 260.9 L433.0 260.0 L433.6 264.9 L434.2 261.2 L434.8 260.1 L435.4 261.1 L436.0 261.4 L436.6 259.3 L437.2 262.1 L437.8 262.2 L438.4 262.2 L439.0 265.0 L439.6 266.5 L440.2 264.8 L440.8 266.7 L441.4 266.6 L442.0 271.2 L442.6 266.8 L443.2 270.5 L443.8 269.4 L444.4 269.9 L445.0 271.3 L445.6 271.9 L446.2 272.6 L446.8 271.9 L447.4 270.8 L448.0 270.9 L448.6 272.2 L449.2 272.6 L449.8 273.7 L450.4 272.5 L451.0 274.2 L451.6 274.7 L452.2 273.1 L452.8 270.7 L453.4 271.5 L454.0 271.0 L454.6 275.5 L455.2 272.1 L455.8 274.1 L456.4 272.7 L457.0 274.4 L457.6 273.6 L458.2 272.4 L458.8 272.4 L459.4 272.4 L460.0 272.5 L460.6 271.3 L461.2 273.2 L461.8 277.3 L462.4 274.5 L463.0 279.2 L463.6 278.1 L464.2 280.0 L464.8 279.8 L465.4 278.7 L466.0 280.5 L466.6 278.2 L467.2 283.8 L467.8 282.1 L468.4 284.5 L469.0 284.2 L469.6 280.9 L470.2 283.6 L470.8 285.3 L471.4 287.1 L472.0 285.8 L472.6 287.0 L473.2 285.4 L473.8 290.1 L474.4 290.7 L475.0 288.2 L475.6 288.2 L476.2 286.9 L476.8 291.1 L477.4 294.1 L478.0 291.9 L478.6 293.2 L479.2 292.3 L479.8 290.5 L480.4 293.9 L481.0 290.7 L481.6 292.6 L482.2 293.8 L482.8 295.2 L483.4 294.3 L484.0 295.2 L484.6 293.8 L485.2 294.0 L485.8 297.1 L486.4 296.0 L487.0 295.8 L487.6 296.1 L488.2 297.4 L488.8 296.3 L489.4 298.1 L490.0 298.4 L490.6 302.0 L491.2 303.1 L491.8 305.9 L492.4 301.3 L493.0 302.9 L493.6 305.9 L494.2 304.7 L494.8 304.9 L495.4 307.8 L496.0 304.9 L496.6 304.0 L497.2 303.9 L497.8 306.5 L498.4 306.6 L499.0 305.0 L499.6 305.6 L500.2 308.2 L500.8 308.5 L501.4 306.0 L502.0 308.9 L502.6 309.7 L503.2 308.0 L503.8 312.1 L504.4 314.2 L505.0 314.0 L505.6 312.3 L506.2 315.5 L506.8 317.7 L507.4 319.1 L508.0 314.2 L508.6 321.8 L509.2 317.6 L509.8 321.5 L510.4 322.5 L511.0 322.8 L511.6 321.8 L512.2 320.7 L512.8 323.9 L513.4 322.1 L514.0 319.8 L514.6 327.3 L515.2 324.6 L515.8 326.8 L516.4 323.2 L517.0 326.5 L517.6 327.1 L518.2 327.2 L518.8 326.0 L519.4 325.8 L520.0 327.7 L520.6 326.4 L521.2 328.0 L521.8 331.1 L522.4 331.0 L523.0 332.9 L523.6 332.7 L524.2 336.0 L524.8 335.0 L525.4 333.0 L526.0 335.6 L526.6 332.6 L527.2 333.2 L527.8 335.0 L528.4 332.0 L529.0 334.3 L529.6 333.5 L530.2 336.5 L530.8 340.1 L531.4 338.0 L532.0 340.9 L532.6 340.0 L533.2 339.9 L533.8 340.2 L534.4 344.2 L535.0 346.2 L535.6 344.5 L536.2 343.3 L536.8 345.6 L537.4 344.7 L538.0 346.6 L538.6 346.2 L539.2 347.1 L539.8 348.3 L540.4 347.3 L541.0 348.6 L541.6 347.5 L542.2 350.4 L542.8 350.2 L543.4 352.9 L544.0 352.7 L544.6 354.5 L545.2 355.6 L545.8 353.4 L546.4 353.8 L547.0 354.3 L547.6 356.6 L548.2 357.9 L548.8 357.7 L549.4 355.8 L550.0 359.2 L550.6 356.1 L551.2 360.4 L551.8 358.5 L552.4 355.6 L553.0 364.2 L553.6 363.7 L554.2 360.3 L554.8 363.0 L555.4 362.8 L556.0 364.4 L556.6 363.2 L557.2 365.4 L557.8 368.5 L558.4 368.6 L559.0 371.7 L559.6 370.7 L560.2 374.7 L560.8 371.9 L561.4 373.5 L562.0 371.7 L562.6 372.6 L563.2 376.4 L563.8 374.1 L564.4 376.2 L565.0 375.3 L565.6 375.3 L566.2 376.5 L566.8 376.8 L567.4 378.0 L568.0 379.2 L568.6 379.4 L569.2 378.4 L569.8 378.4 L570.4 381.2 L571.0 382.1 L571.6 384.5 L572.2 387.8 L572.8 386.3 L573.4 385.4 L574.0 386.3 L574.6 385.8 L575.2 386.8 L575.8 388.0 L576.4 389.7 L577.0 390.4 L577.6 392.5 L578.2 391.5 L578.8 392.8 L579.4 392.6 L580.0 396.9 L580.6 396.6 L581.2 399.1 L581.8 398.3 L582.4 400.5 L583.0 398.5 L583.6 400.2 L584.2 403.7 L584.8 398.6 L585.4 402.4 L586.0 403.8 L586.6 403.1 L587.2 404.9 L587.8 406.3 L588.4 404.8 L589.0 406.4 L589.6 404.9 L590.2 406.1 L590.8 406.4 L591.4 408.3 L592.0 409.2 L592.6 409.5 L593.2 407.8 L593.8 412.1 L594.4 411.3 L595.0 410.7 L595.6 409.6 L596.2 410.9 L596.8 412.6 L597.4 414.1 L598.0 412.0 L598.6 415.6 L599.2 419.2 L599.8 412.8 L600.4 416.7 L601.0 416.9 L601.6 416.8 L602.2 419.4 L602.8 416.8 L603.4 419.1 L604.0 421.3 L604.6 420.4 L605.2 420.7 L605.8 421.8 L606.4 421.8 L607.0 425.8 L607.6 422.9 L608.2 426.7 L608.8 425.1 L609.4 428.1 L610.0 427.9 L610.6 425.1 L611.2 429.2 L611.8 428.6 L612.4 430.3 L613.0 433.5 L613.6 430.8 L614.2 431.7 L614.8 436.1 L615.4 435.2 L616.0 437.7 L616.6 436.4 L617.2 435.6 L617.8 437.3 L618.4 439.7 L619.0 439.9 L619.6 438.8 L620.2 440.0 L620.8 440.6 L621.4 440.6 L622.0 445.2 L622.6 442.9 L623.2 442.1 L623.8 444.1 L624.4 446.5 L625.0 447.9 L625.6 447.3 L626.2 446.8 L626.8 448.5 L627.4 446.8 L628.0 449.1 L628.6 453.3 L629.2 452.0 L629.8 454.0 L630.4 455.1 L631.0 454.4 L631.6 455.3 L632.2 458.8 L632.8 458.0 L633.4 457.9 L634.0 459.9 L634.6 460.2 L635.2 459.3 L635.8 460.8 L636.4 460.3 L637.0 458.9 L637.6 462.1 L638.2 463.1 L638.8 464.1 L639.4 462.8 L640.0 464.6 L640.6 466.0 L641.2 467.0 L641.8 466.1 L642.4 469.5 L643.0 467.5 L643.6 469.4 L644.2 472.2 L644.8 469.7 L645.4 470.5 L646.0 473.8 L646.6 472.1 L647.2 473.1 L647.8 474.6 L648.4 476.0 L649.0 472.6 L649.6 474.7 L650.2 475.0 L650.8 474.9 L651.4 475.5 L652.0 476.8 L652.6 478.7 L653.2 478.3 L653.8 481.5 L654.4 482.6 L655.0 482.0 L655.6 483.3 L656.2 484.9 L656.8 483.2 L657.4 482.2 L658.0 483.6 L658.6 483.2 L659.2 485.7 L659.8 487.1 L660.4 485.4 L661.0 486.8 L661.6 489.5 L662.2 488.4 L662.8 490.7 L663.4 490.6 L664.0 491.4 L664.6 492.7 L665.2 496.3 L665.8 494.1 L666.4 495.2 L667.0 495.7 L667.6 497.1 L668.2 498.4 L668.8 497.8 L669.4 500.8 L670.0 499.8 L670.6 502.2 L671.2 502.0 L671.8 503.9 L672.4 501.6 L673.0 504.4 L673.6 505.4 L674.2 505.7 L674.8 504.6 L675.4 509.2 L676.0 509.2 L676.6 510.2 L677.2 511.7 L677.8 512.6 L678.4 513.9 L679.0 512.3 L679.6 512.5 L680.2 515.1 L680.8 515.5 L681.4 515.3 L682.0 516.3 L682.6 516.2 L683.2 517.5 L683.8 520.0 L684.4 517.3 L685.0 520.8 L685.6 520.8 L686.2 519.6 L686.8 521.3 L687.4 519.0 L688.0 518.2 L688.6 518.7 L689.2 520.7 L689.8 521.5 L690.4 522.1 L691.0 523.8 L691.6 521.9 L692.2 526.1 L692.8 524.6 L693.4 527.0 L694.0 527.9 L694.6 527.9 L695.2 528.6 L695.8 529.1 L696.4 530.8 L697.0 532.4 L697.6 533.4 L698.2 532.8 L698.8 534.4 L699.4 535.3 L700.0 538.0 L700.6 535.1 L701.2 539.3 L701.8 537.6 L702.4 537.6 L703.0 539.9 L703.6 542.1 L704.2 541.7 L704.8 543.3 L705.4 543.0 L706.0 545.2 L706.6 546.1 L707.2 545.5 L707.8 548.2 L708.4 546.9 L709.0 547.7 L709.6 547.5 L710.2 548.9 L710.8 551.7 L711.4 550.1 L712.0 553.2 L712.6 553.5 L713.2 554.4 L713.8 551.5 L714.4 554.4 L715.0 556.3 L715.6 554.7 L716.2 556.5 L716.8 554.1 L717.4 559.2 L718.0 557.8 L718.6 560.2 L719.2 557.7 L719.8 561.6 L720.4 561.7 L721.0 563.7 L721.6 562.4 L722.2 563.5 L722.8 568.2 L723.4 565.0 L724.0 565.7 L724.6 566.8 L725.2 565.7 L725.8 569.5 L726.4 571.2 L727.0 568.8 L727.6 568.6 L728.2 573.5 L728.8 574.1 L729.4 574.9 L730.0 576.1 L730.6 573.9 L731.2 575.5 L731.8 574.2 L732.4 574.8 L733.0 578.8 L733.6 577.4 L734.2 581.7 L734.8 579.0 L735.4 578.0 L736.0 579.8 L736.6 582.0 L737.2 581.9 L737.8 580.7 L738.4 583.5 L739.0 585.6 L739.6 583.4 L740.2 583.8 L740.8 586.8 L741.4 587.2 L742.0 586.8 L742.6 588.3 L743.2 588.5 L743.8 589.7 L744.4 589.5 L745.0 591.6 L745.6 591.9 L746.2 590.2 L746.8 593.9 L747.4 595.3 L748.0 595.3 L748.6 596.3 L749.2 595.2 L749.8 595.7 L750.4 599.7 L751.0 598.1 L751.6 598.0 L752.2 603.1 L752.8 601.5 L753.4 602.6 L754.0 601.5 L754.6 602.7 L755.2 604.2 L755.8 606.8 L756.4 609.3 L757.0 606.5 L757.6 610.7 L758.2 608.9 L758.8 609.9 L759.4 613.1 L760.0 612.9 L760.6 611.9 L761.2 616.7 L761.8 613.9 L762.4 615.7 L763.0 616.8 L763.6 618.8 L764.2 617.0 L764.8 620.1 L765.4 618.2 L766.0 621.1 L766.6 619.5 L767.2 619.9 L767.8 623.0 L768.4 621.1 L769.0 621.8 L769.6 625.0 L770.2 623.7 L770.8 623.4 L771.4 625.4 L772.0 624.1 L772.6 627.4 L773.2 628.4 L773.8 627.4 L774.4 627.8 L775.0 629.3 L775.6 629.1 L776.2 627.9 L776.8 630.1 L777.4 626.8 L778.0 629.5 L778.6 629.9 L779.2 630.9 L779.8 633.2 L780.4 632.7 L781.0 636.5 L781.6 637.4 L782.2 637.7 L782.8 638.1 L783.4 639.8 L784.0 641.2 L784.6 640.2 L785.2 642.2 L785.8 642.8 L786.4 644.5 L787.0 644.8 L787.6 643.0 L788.2 643.2 L788.8 645.6 L789.4 645.8 L790.0 647.0 L790.6 645.5 L791.2 647.7 L791.8 647.8 L792.4 648.2 L793.0 649.2 L793.6 649.0 L794.2 649.3 L794.8 649.6 L795.4 650.0 L796.0 648.9 L796.6 652.0 L797.2 649.2 L797.8 651.1 L798.4 649.2 L799.0 648.8 L799.6 652.1 L800.2 649.1 L800.8 648.4 L801.4 649.2 L802.0 650.1 L802.6 653.5 L803.2 651.2 L803.8 652.3 L804.4 649.5 L805.0 651.0 L805.6 651.5 L806.2 653.4 L806.8 651.0 L807.4 653.3 L808.0 651.9 L808.6 648.5 L809.2 647.8 L809.8 646.2 L810.4 643.9 L811.0 648.5 L811.6 648.9 L812.2 648.3 L812.8 647.7 L813.4 651.2 L814.0 649.4 L814.6 650.1 L815.2 649.2 L815.8 645.6 L816.4 646.5 L817.0 643.6 L817.6 643.8 L818.2 643.2 L818.8 643.0 L819.4 644.5 L820.0 642.9 L820.6 642.7 L821.2 642.4 L821.8 642.6 L822.4 640.4 L823.0 640.1 L823.6 640.4 L824.2 639.9 L824.8 640.0 L825.4 640.0 L826.0 643.0 L826.6 641.7 L827.2 640.2 L827.8 638.4 L828.4 641.0 L829.0 638.2 L829.6 636.8 L830.2 637.1 L830.8 636.4 L831.4 637.2 L832.0 635.1 L832.6 636.4 L833.2 630.8 L833.8 632.1 L834.4 628.6 L835.0 631.2 L835.6 627.6 L836.2 626.2 L836.8 625.7 L837.4 624.8 L838.0 620.4 L838.6 621.8 L839.2 621.9 L839.8 626.0 L840.4 627.8 L841.0 628.8 L841.6 628.2 L842.2 628.3 L842.8 626.5 L843.4 626.4 L844.0 626.9 L844.6 621.1 L845.2 622.9 L845.8 621.7 L846.4 622.2 L847.0 620.0 L847.6 620.1 L848.2 617.9 L848.8 619.5 L849.4 617.0 L850.0 615.7 L851.0 613.8 L852.0 613.7 L853.0 614.3 L854.0 613.1 L855.0 610.7 L856.0 611.7 L857.0 608.7 L858.0 609.5 L859.0 602.8 L860.0 601.1 L861.0 605.8 L862.0 598.9 L863.0 600.5 L864.0 599.8 L865.0 597.4 L866.0 596.2 L867.0 600.4 L868.0 587.2 L869.0 596.3 L870.0 599.5 L871.0 590.9 L872.0 589.4 L873.0 590.5 L874.0 593.0 L875.0 580.7 L876.0 583.8 L877.0 581.2 L878.0 582.6 L879.0 579.5 L880.0 580.0 L881.0 573.9 L882.0 574.4 L883.0 569.8 L884.0 568.3 L885.0 569.2 L886.0 567.8 L887.0 561.6 L888.0 573.4 L889.0 563.8 L890.0 556.3 L891.0 567.6 L892.0 556.8 L893.0 562.2 L894.0 558.1 L895.0 558.5 L896.0 556.8 L897.0 551.3 L898.0 553.8 L899.0 564.9 L900.0 537.4 L901.0 550.7 L902.0 552.1 L903.0 541.3 L904.0 538.0 L905.0 561.2 L906.0 542.7 L907.0 559.2 L908.0 547.2 L909.0 542.9 L910.0 544.8 L911.0 544.9 L912.0 548.0 L913.0 541.2 L914.0 537.7 L915.0 536.8 L916.0 545.1 L917.0 539.8 L918.0 523.9 L919.0 525.8 L920.0 533.0 L921.0 524.1 L922.0 525.3 L923.0 519.5 L924.0 524.7 L925.0 530.0 L926.0 534.3 L927.0 524.8 L928.0 542.7 L929.0 522.3 L930.0 551.6 L931.0 530.4 L932.0 524.7 L933.0 514.3 L934.0 529.6 L934.7 506.4 L935.4 537.6 L936.2 504.1 L936.9 531.0 L937.6 492.7 L938.3 530.0 L939.0 495.3 L939.8 536.0 L940.5 495.3 L941.2 527.2 L941.9 480.1 L942.6 526.8 L943.4 488.3 L944.1 537.9 L944.8 486.1 L945.5 539.6 L946.2 473.2 L947.0 467.0 L947.7 483.4 L948.4 521.4 L949.1 469.3 L949.8 534.1 L950.6 479.0 L951.3 519.5 L952.0 458.0 L952.7 534.0 L953.4 471.0 L954.2 526.1 L954.9 464.0 L955.6 514.3 L956.3 473.8 L957.0 450.0 L957.8 470.7 L958.5 515.9 L959.2 452.4 L959.9 519.9 L960.6 471.7 L961.4 526.6 L962.1 448.9 L962.8 539.0 L963.5 456.1 L964.2 517.5 L965.0 461.3 L965.7 514.6 L966.4 449.4 L967.1 527.1 L967.8 534.0 L968.6 528.0 L969.3 431.0 L970.0 522.5 L970.7 460.5 L971.4 510.3 L972.2 461.2 L972.9 528.4 L973.6 396.0 L974.3 528.0 L975.0 443.8 L975.8 525.3 L976.5 453.9 L977.2 524.2 L977.9 460.9 L978.6 521.0 L979.4 463.9 L980.1 529.6 L980.8 439.9 L981.5 506.9 L982.2 442.4 L983.0 525.4 L983.7 462.6 L984.4 423.0 L985.1 451.3 L985.8 546.0 L986.6 437.3 L987.3 522.3 L988.0 456.3 L988.7 517.3 L989.4 445.6 L990.2 501.2 L990.9 530.0 L991.6 511.3 L992.3 455.9 L993.0 507.5 L993.8 423.0 L994.5 528.9 L995.2 524.0 L995.9 519.4"/>
<path class="ln" stroke="#ff7f0e" d="M164.2 603.4 L165.2 601.8 L166.2 600.1 L167.2 598.5 L168.2 596.9 L169.2 595.2 L170.2 593.6 L171.2 591.9 L172.2 590.2 L173.2 588.4 L174.2 586.7 L175.2 584.9 L176.2 583.2 L177.2 581.4 L178.2 579.6 L179.2 577.7 L180.2 575.9 L181.2 574.0 L182.2 572.1 L183.2 570.3 L184.2 568.4 L185.2 566.4 L186.2 564.5 L187.2 562.6 L188.2 560.6 L189.2 558.6 L190.2 556.7 L191.2 554.7 L192.2 552.7 L193.2 550.7 L194.2 548.6 L195.2 546.6 L196.2 544.6 L197.2 542.5 L198.2 540.4 L199.2 538.4 L200.2 536.3 L201.2 534.2 L202.2 532.1 L203.2 530.0 L204.2 527.9 L205.2 525.8 L206.2 523.7 L207.2 521.5 L208.2 519.4 L209.2 517.2 L210.2 515.1 L211.2 513.0 L212.2 510.8 L213.2 508.6 L214.2 506.5 L215.1 504.3 L216.1 502.1 L217.1 500.0 L218.1 497.8 L219.1 495.6 L220.1 493.5 L221.1 491.3 L222.1 489.1 L223.1 486.9 L224.1 484.7 L225.1 482.6 L226.1 480.4 L227.1 478.2 L228.1 476.0 L229.1 473.9 L230.1 471.7 L231.1 469.5 L232.1 467.4 L233.1 465.2 L234.1 463.1 L235.1 460.9 L236.1 458.7 L237.1 456.6 L238.1 454.4 L239.1 452.3 L240.1 450.2 L241.1 448.0 L242.1 445.9 L243.1 443.8 L244.1 441.6 L245.1 439.5 L246.1 437.4 L247.1 435.3 L248.1 433.2 L249.1 431.1 L250.1 429.0 L251.1 426.9 L252.1 424.8 L253.1 422.7 L254.1 420.7 L255.1 418.6 L256.1 416.5 L257.1 414.5 L258.1 412.4 L259.1 410.4 L260.1 408.3 L261.1 406.3 L262.1 404.3 L263.1 402.3 L264.1 400.2 L265.1 398.2 L266.1 396.2 L267.1 394.3 L268.1 392.3 L269.1 390.3 L270.1 388.3 L271.1 386.4 L272.1 384.4 L273.1 382.5 L274.1 380.5 L275.1 378.6 L276.1 376.7 L277.1 374.8 L278.1 372.9 L279.1 371.0 L280.1 369.1 L281.1 367.2 L282.1 365.4 L283.1 363.5 L284.1 361.7 L285.1 359.8 L286.1 358.0 L287.1 356.2 L288.1 354.4 L289.1 352.6 L290.1 350.8 L291.1 349.0 L292.1 347.2 L293.1 345.5 L294.1 343.7 L295.1 342.0 L296.1 340.2 L297.1 338.5 L298.1 336.7 L299.1 335.0 L300.1 333.3 L301.1 331.6 L302.1 329.9 L303.1 328.2 L304.1 326.5 L305.1 324.9 L306.1 323.2 L307.1 321.5 L308.1 319.9 L309.1 318.2 L310.1 316.6 L311.1 315.0 L312.1 313.3 L313.1 311.7 L314.1 310.1 L315.1 308.5 L316.0 306.9 L317.0 305.3 L318.0 303.7 L319.0 302.1 L320.0 300.6 L321.0 299.0 L322.0 297.4 L323.0 295.9 L324.0 294.3 L325.0 292.8 L326.0 291.3 L327.0 289.7 L328.0 288.2 L329.0 286.7 L330.0 285.2 L331.0 283.6 L332.0 282.1 L333.0 280.6 L334.0 279.1 L335.0 277.6 L336.0 276.2 L337.0 274.7 L338.0 273.2 L339.0 271.7 L340.0 270.3 L341.0 268.8 L342.0 267.3 L343.0 265.9 L344.0 264.4 L345.0 263.0 L346.0 261.6 L347.0 260.2 L348.0 258.7 L349.0 257.3 L350.0 255.9 L351.0 254.5 L352.0 253.0 L353.0 251.5 L354.0 250.0 L355.0 248.5 L356.0 246.8 L357.0 245.1 L358.0 243.3 L359.0 241.5 L360.0 239.6 L361.0 237.5 L362.0 235.3 L363.0 233.0 L364.0 230.8 L365.0 228.8 L366.0 226.8 L367.0 226.8 L368.0 226.8 L369.0 226.8 L370.0 226.9 L371.0 226.9 L372.0 226.9 L373.0 227.0 L374.0 227.0 L375.0 227.0 L376.0 227.1 L377.0 227.2 L378.0 227.3 L379.0 227.4 L380.0 227.5 L381.0 227.6 L382.0 227.7 L383.0 227.8 L384.0 227.9 L385.0 228.1 L386.0 228.2 L387.0 228.3 L388.0 228.5 L389.0 228.6 L390.0 228.8 L391.0 229.0 L392.0 229.1 L393.0 229.3 L394.0 229.5 L395.0 229.7 L396.0 229.9 L397.0 230.1 L398.0 230.3 L399.0 230.6 L400.0 230.8 L401.0 231.0 L402.0 231.3 L403.0 231.5 L404.0 231.8 L405.0 232.0 L406.0 232.3 L407.0 232.6 L408.0 232.9 L409.0 233.2 L410.0 233.5 L411.0 233.8 L412.0 234.1 L413.0 234.4 L414.0 234.7 L415.0 235.1 L416.0 235.4 L417.0 235.8 L418.0 236.1 L419.1 236.5 L420.1 236.8 L421.1 237.2 L422.1 237.6 L423.1 238.0 L424.1 238.4 L425.1 238.8 L426.1 239.2 L427.1 239.6 L428.1 240.1 L429.1 240.5 L430.1 240.9 L431.1 241.4 L432.1 241.9 L433.1 242.3 L434.1 242.8 L435.1 243.3 L436.1 243.8 L437.1 244.3 L438.1 244.8 L439.1 245.3 L440.1 245.8 L441.1 246.3 L442.1 246.8 L443.1 247.4 L444.1 247.9 L445.1 248.5 L446.1 249.1 L447.1 249.6 L448.1 250.2 L449.1 250.8 L450.1 251.4 L451.1 252.0 L452.1 252.6 L453.1 253.2 L454.1 253.8 L455.1 254.5 L456.1 255.1 L457.1 255.8 L458.1 256.4 L459.1 257.1 L460.1 257.8 L461.1 258.4 L462.1 259.1 L463.1 259.8 L464.1 260.5 L465.1 261.2 L466.1 261.9 L467.1 262.7 L468.1 263.4 L469.1 264.1 L470.1 264.9 L471.1 265.6 L472.1 266.4 L473.1 267.2 L474.1 268.0 L475.1 268.7 L476.1 269.5 L477.1 270.3 L478.1 271.1 L479.1 271.9 L480.1 272.7 L481.1 273.6 L482.1 274.4 L483.1 275.2 L484.1 276.1 L485.1 276.9 L486.1 277.8 L487.1 278.6 L488.1 279.5 L489.1 280.3 L490.1 281.2 L491.1 282.1 L492.1 283.0 L493.1 283.9 L494.1 284.8 L495.1 285.7 L496.1 286.6 L497.1 287.5 L498.1 288.4 L499.1 289.3 L500.1 290.2 L501.1 291.2 L502.1 292.1 L503.1 293.0 L504.1 294.0 L505.1 294.9 L506.1 295.9 L507.1 296.8 L508.1 297.8 L509.1 298.7 L510.1 299.7 L511.1 300.7 L512.1 301.6 L513.1 302.6 L514.1 303.6 L515.1 304.6 L516.1 305.6 L517.1 306.6 L518.1 307.6 L519.1 308.6 L520.1 309.6 L521.1 310.6 L522.1 311.6 L523.1 312.6 L524.2 313.6 L525.2 314.6 L526.2 315.6 L527.2 316.7 L528.2 317.7 L529.2 318.7 L530.2 319.7 L531.2 320.8 L532.2 321.8 L533.2 322.8 L534.2 323.9 L535.2 324.9 L536.2 325.9 L537.2 327.0 L538.2 328.0 L539.2 329.1 L540.2 330.1 L541.2 331.2 L542.2 332.2 L543.2 333.3 L544.2 334.3 L545.2 335.4 L546.2 336.4 L547.2 337.5 L548.2 338.5 L549.2 339.6 L550.2 340.6 L551.2 341.7 L552.2 342.8 L553.2 343.8 L554.2 344.9 L555.2 346.0 L556.2 347.0 L557.2 348.1 L558.2 349.2 L559.2 350.2 L560.2 351.3 L561.2 352.4 L562.2 353.5 L563.2 354.5 L564.2 355.6 L565.2 356.7 L566.2 357.8 L567.2 358.9 L568.2 360.0 L569.2 361.1 L570.2 362.2 L571.2 363.3 L572.2 364.4 L573.2 365.6 L574.2 366.7 L575.2 367.8 L576.2 369.0 L577.2 370.1 L578.2 371.2 L579.2 372.4 L580.2 373.5 L581.2 374.7 L582.2 375.9 L583.2 377.1 L584.2 378.2 L585.2 379.4 L586.2 380.6 L587.2 381.8 L588.2 383.0 L589.2 384.2 L590.2 385.4 L591.2 386.6 L592.2 387.8 L593.2 389.1 L594.2 390.3 L595.2 391.5 L596.2 392.7 L597.2 394.0 L598.2 395.2 L599.2 396.5 L600.2 397.7 L601.2 398.9 L602.2 400.2 L603.2 401.4 L604.2 402.7 L605.2 403.9 L606.2 405.2 L607.2 406.4 L608.2 407.7 L609.2 409.0 L610.2 410.2 L611.2 411.5 L612.2 412.7 L613.2 414.0 L614.2 415.3 L615.2 416.5 L616.2 417.8 L617.2 419.1 L618.2 420.3 L619.2 421.6 L620.2 422.8 L621.2 424.1 L622.2 425.4 L623.2 426.6 L624.2 427.9 L625.2 429.1 L626.2 430.4 L627.2 431.6 L628.2 432.9 L629.2 434.1 L630.3 435.4 L631.3 436.6 L632.3 437.9 L633.3 439.2 L634.3 440.4 L635.3 441.7 L636.3 442.9 L637.3 444.2 L638.3 445.4 L639.3 446.7 L640.3 447.9 L641.3 449.1 L642.3 450.4 L643.3 451.6 L644.3 452.9 L645.3 454.1 L646.3 455.4 L647.3 456.6 L648.3 457.9 L649.3 459.1 L650.3 460.4 L651.3 461.6 L652.3 462.9 L653.3 464.1 L654.3 465.4 L655.3 466.6 L656.3 467.8 L657.3 469.1 L658.3 470.3 L659.3 471.6 L660.3 472.8 L661.3 474.1 L662.3 475.3 L663.3 476.6 L664.3 477.8 L665.3 479.1 L666.3 480.3 L667.3 481.6 L668.3 482.8 L669.3 484.0 L670.3 485.3 L671.3 486.5 L672.3 487.8 L673.3 489.0 L674.3 490.3 L675.3 491.5 L676.3 492.8 L677.3 494.0 L678.3 495.3 L679.3 496.5 L680.3 497.8 L681.3 499.1 L682.3 500.3 L683.3 501.6 L684.3 502.8 L685.3 504.1 L686.3 505.3 L687.3 506.6 L688.3 507.8 L689.3 509.1 L690.3 510.4 L691.3 511.6 L692.3 512.9 L693.3 514.1 L694.3 515.4 L695.3 516.7 L696.3 517.9 L697.3 519.2 L698.3 520.5 L699.3 521.7 L700.3 523.0 L701.3 524.3 L702.3 525.5 L703.3 526.8 L704.3 528.1 L705.3 529.3 L706.3 530.6 L707.3 531.9 L708.3 533.2 L709.3 534.4 L710.3 535.7 L711.3 537.0 L712.3 538.3 L713.3 539.6 L714.3 540.9 L715.3 542.1 L716.3 543.4 L717.3 544.7 L718.3 546.0 L719.3 547.3 L720.3 548.6 L721.3 549.9 L722.3 551.1 L723.3 552.4 L724.3 553.7 L725.3 555.0 L726.3 556.3 L727.3 557.6 L728.3 558.9 L729.3 560.1 L730.3 561.4 L731.3 562.7 L732.3 564.0 L733.3 565.3 L734.3 566.6 L735.4 567.8 L736.4 569.1 L737.4 570.4 L738.4 571.7 L739.4 572.9 L740.4 574.2 L741.4 575.5 L742.4 576.7 L743.4 578.0 L744.4 579.3 L745.4 580.5 L746.4 581.8 L747.4 583.1 L748.4 584.3 L749.4 585.6 L750.4 586.8 L751.4 588.1 L752.4 589.3 L753.4 590.6 L754.4 591.8 L755.4 593.0 L756.4 594.3 L757.4 595.5 L758.4 596.7 L759.4 597.9 L760.4 599.2 L761.4 600.4 L762.4 601.6 L763.4 602.8 L764.4 603.9 L765.4 605.1 L766.4 606.1 L767.4 607.1 L768.4 608.0 L769.4 608.7 L770.4 609.4 L771.4 610.1 L772.4 610.8 L773.4 611.4 L774.4 612.0 L775.4 612.6 L776.4 613.0 L777.4 613.3 L778.4 613.5 L779.4 613.6 L780.4 613.7 L781.4 613.8 L782.4 613.6 L783.4 612.9 L784.4 611.9 L785.4 609.5 L786.4 605.3 L787.4 600.5 L788.4 604.6 L789.4 609.9 L790.4 617.1 L791.4 624.6 L792.4 630.5 L793.4 635.7 L794.4 639.7 L795.4 642.8 L796.4 645.5 L797.4 647.7 L798.4 649.4 L799.4 650.7 L800.4 651.8 L801.4 653.0 L802.4 653.9 L803.4 654.6 L804.4 655.1 L805.4 655.6 L806.4 655.8 L807.4 656.0 L808.4 655.9 L809.4 655.8 L810.4 655.6 L811.4 655.3 L812.4 655.0 L813.4 654.5 L814.4 654.1 L815.4 653.5 L816.4 652.9 L817.4 652.3 L818.4 651.6 L819.4 650.9 L820.4 650.1 L821.4 649.2 L822.4 648.4 L823.4 647.4 L824.4 646.5 L825.4 645.4 L826.4 644.4 L827.4 643.3 L828.4 642.2 L829.4 641.0 L830.4 639.8 L831.4 638.6 L832.4 637.4 L833.4 636.1 L834.4 634.8 L835.4 633.4 L836.4 632.1 L837.4 630.7 L838.4 629.3 L839.4 627.8 L840.4 626.4 L841.4 624.9 L842.4 623.4 L843.4 621.9 L844.4 620.4 L845.4 618.9 L846.4 617.4 L847.4 615.8 L848.4 614.3 L849.4 612.7 L850.4 611.1 L851.4 609.6 L852.4 608.0 L853.4 606.4 L854.4 604.9 L855.4 603.3 L856.4 601.7 L857.4 600.2 L858.4 598.6 L859.4 597.0 L860.4 595.5 L861.4 593.9 L862.4 592.4 L863.4 590.8 L864.4 589.3 L865.4 587.7 L866.4 586.2 L867.4 584.7 L868.4 583.1 L869.4 581.6 L870.4 580.1 L871.4 578.6 L872.4 577.0 L873.4 575.5 L874.4 574.0 L875.4 572.5 L876.4 571.0 L877.4 569.5 L878.4 568.0 L879.4 566.5 L880.4 565.0 L881.4 563.5 L882.4 562.0 L883.4 560.6 L884.4 559.1 L885.4 557.6 L886.4 556.2 L887.4 554.7 L888.4 553.3 L889.4 551.8 L890.4 550.4 L891.4 548.9 L892.3 547.5 L893.3 546.1 L894.3 544.6 L895.3 543.2 L896.3 541.8 L897.3 540.4 L898.3 539.0 L899.3 537.6 L900.3 536.2 L901.3 534.8 L902.3 533.4 L903.3 532.0 L904.3 530.6 L905.3 529.3 L906.3 527.9 L907.3 526.5 L908.3 525.2 L909.3 523.8 L910.3 522.5 L911.3 521.2 L912.3 519.8 L913.3 518.5 L914.3 517.2 L915.3 515.9 L916.3 514.6 L917.3 513.3 L918.3 512.0 L919.3 510.7 L920.3 509.4 L921.3 508.2 L922.3 506.9 L923.3 505.6 L924.3 504.4 L925.3 503.1 L926.3 501.9 L927.3 500.7 L928.3 499.4 L929.3 498.2 L930.3 497.0 L931.3 495.8 L932.3 494.6 L933.3 493.4 L934.3 492.2 L935.3 491.0 L936.3 489.9 L937.3 488.7 L938.3 487.6 L939.3 486.4 L940.3 485.3 L941.3 484.1 L942.3 483.0 L943.3 481.9 L944.3 480.8 L945.3 479.7 L946.3 478.6 L947.3 477.5 L948.3 476.4 L949.3 475.4 L950.3 474.3 L951.3 473.3 L952.3 472.2 L953.3 471.2 L954.3 470.2 L955.3 469.1 L956.3 468.1 L957.3 467.1 L958.3 466.1 L959.3 465.2 L960.3 464.2 L961.3 463.2 L962.3 462.3 L963.3 461.3 L964.3 460.4 L965.3 459.4 L966.3 458.5 L967.3 457.6 L968.3 456.7 L969.3 455.8 L970.3 454.9 L971.3 454.1 L972.3 453.2 L973.3 452.3 L974.3 451.5 L975.3 450.7 L976.3 449.8 L977.3 449.0 L978.3 448.2 L979.3 447.4 L980.3 446.6 L981.3 445.9 L982.3 445.1 L983.3 444.3 L984.3 443.6 L985.3 442.9 L986.3 442.1 L987.3 441.4 L988.3 440.7 L989.3 440.0 L990.3 439.4 L991.3 438.7 L992.3 438.0 L993.3 437.4 L994.3 436.7 L995.3 436.0 L996.3 435.3"/>
</g>
<line class="tk" x1="164.2" y1="672.9" x2="164.2" y2="680.9"/>
<text x="164.2" y="713.8" text-anchor="middle">400</text>
<line class="tk" x1="283.1" y1="672.9" x2="283.1" y2="680.9"/>
<text x="283.1" y="713.8" text-anchor="middle">450</text>
<line class="tk" x1="401.9" y1="672.9" x2="401.9" y2="680.9"/>
<text x="401.9" y="713.8" text-anchor="middle">500</text>
<line class="tk" x1="520.8" y1="672.9" x2="520.8" y2="680.9"/>
<text x="520.8" y="713.8" text-anchor="middle">550</text>
<line class="tk" x1="639.7" y1="672.9" x2="639.7" y2="680.9"/>
<text x="639.7" y="713.8" text-anchor="middle">600</text>
<line class="tk" x1="758.6" y1="672.9" x2="758.6" y2="680.9"/>
<text x="758.6" y="713.8" text-anchor="middle">650</text>
<line class="tk" x1="877.4" y1="672.9" x2="877.4" y2="680.9"/>
<text x="877.4" y="713.8" text-anchor="middle">700</text>
<line class="tk" x1="996.3" y1="672.9" x2="996.3" y2="680.9"/>
<text x="996.3" y="713.8" text-anchor="middle">750</text>
<line class="tk" x1="156.2" y1="672.9" x2="164.2" y2="672.9"/>
<text x="148.2" y="685.1" text-anchor="end">0.000</text>
<line class="tk" x1="156.2" y1="562.7" x2="164.2" y2="562.7"/>
<text x="148.2" y="574.9" text-anchor="end">0.005</text>
<line class="tk" x1="156.2" y1="452.5" x2="164.2" y2="452.5"/>
<text x="148.2" y="464.7" text-anchor="end">0.010</text>
<line class="tk" x1="156.2" y1="342.2" x2="164.2" y2="342.2"/>
<text x="148.2" y="354.4" text-anchor="end">0.015</text>
<line class="tk" x1="156.2" y1="232.0" x2="164.2" y2="232.0"/>
<text x="148.2" y="244.2" text-anchor="end">0.020</text>
<line class="tk" x1="156.2" y1="121.8" x2="164.2" y2="121.8"/>
<text x="148.2" y="134.0" text-anchor="end">0.025</text>
<line class="tk" x1="156.2" y1="11.6" x2="164.2" y2="11.6"/>
<text x="148.2" y="23.8" text-anchor="end">0.030</text>
<rect x="164.2" y="11.6" width="832.1" height="661.3" fill="none" stroke="#000" stroke-width="1.80"/>
<text x="580.2" y="754" text-anchor="middle">Wavelength /nm</text>
<text transform="translate(40.0 342.6) rotate(-90)" text-anchor="middle">η</text>
<rect x="658.7" y="27.7" width="321.5" height="198.9" rx="4.6" ry="4.6" fill="#fff" fill-opacity="0.8" stroke="#ccc" stroke-opacity="0.8" stroke-width="2.3"/>
<line x1="669.5" y1="53.7" x2="737.4" y2="53.7" stroke="#1f77b4" stroke-width="3.50"/>
<text x="761.6" y="65.0">Measured, A</text>
<line x1="669.5" y1="101.1" x2="737.4" y2="101.1" stroke="#17becf" stroke-width="3.50"/>
<text x="761.6" y="112.4">Simulated, A</text>
<line x1="669.5" y1="148.6" x2="737.4" y2="148.6" stroke="#d62728" stroke-width="3.50"/>
<text x="761.6" y="159.8">Measured, B</text>
<line x1="669.5" y1="196.0" x2="737.4" y2="196.0" stroke="#ff7f0e" stroke-width="3.50"/>
<text x="761.6" y="207.2">Simulated, B</text>
</svg></body></html>
